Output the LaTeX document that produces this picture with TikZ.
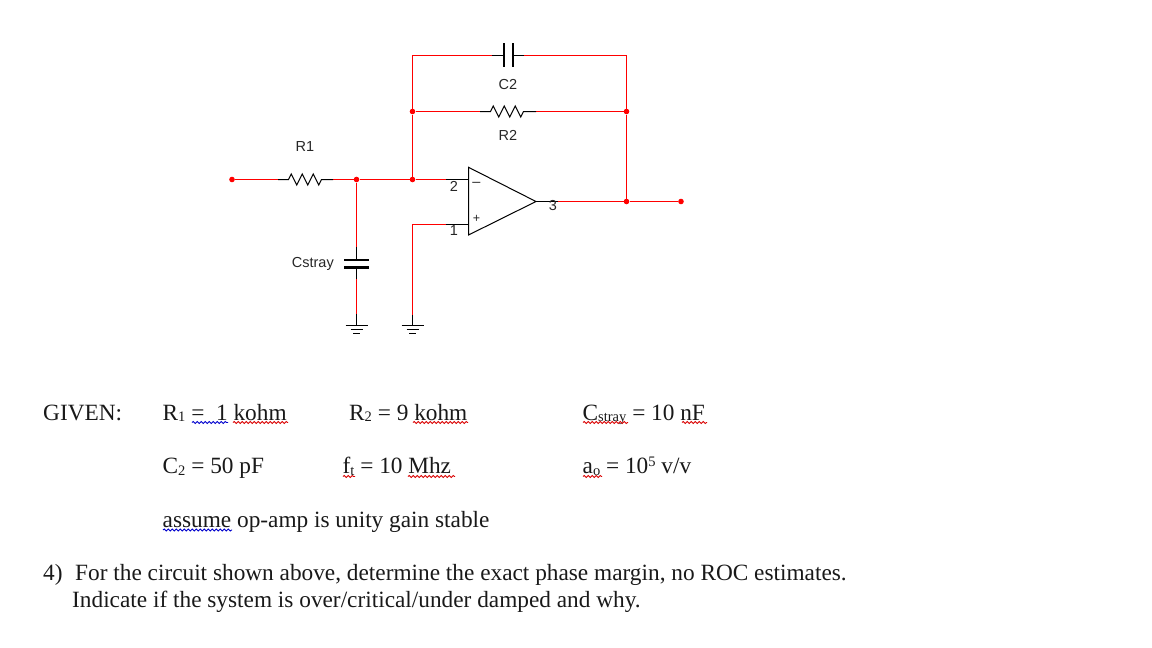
\documentclass[tikz,border=0pt]{standalone}
\usepackage{fontspec}
\setmainfont{Liberation Serif}
\newfontfamily\labelfont{Liberation Sans}
\usetikzlibrary{decorations.pathmorphing}

\newcommand{\lowtxt}[1]{\raisebox{-1.5pt}{\fontsize{14.5}{14.5}\selectfont #1}}
\newcommand{\hightxt}[1]{\raisebox{7.5pt}{\fontsize{14.5}{14.5}\selectfont #1}}

\tikzset{
  gnd/.pic={
    \draw[blackwire] (-11,0) -- (11,0);
    \draw[blackwire] (-6,4) -- (6,4);
    \draw[blackwire] (-3.5,8) -- (3.5,8);
  }
}

\begin{document}
\begin{tikzpicture}
    [x=1pt,y=-1pt,
     redwire/.style={draw=red,line width=1pt},
     blackwire/.style={draw=black,line width=1pt},
     plate/.style={draw=black,line width=2.4pt},
     resistor/.style={draw=black,line width=1pt,decorate,
       decoration={zigzag,amplitude=5.5pt,segment length=11pt,pre length=10.5pt,post length=10.5pt}},
     dot/.style={circle,fill=red,inner sep=0pt,minimum size=5.6pt},
     lab/.style={inner sep=0pt,text=black!85,font=\labelfont\fontsize{14.5}{16}\selectfont},
     txt/.style={anchor=base west,inner sep=0pt,text=black!90,font=\fontsize{23.3}{26}\selectfont},
     spellred/.style={draw=red!85!black,line width=0.9pt,decorate,decoration={snake,amplitude=1pt,segment length=4pt}},
     spellblue/.style={draw=blue!80!black,line width=0.9pt,decorate,decoration={snake,amplitude=1pt,segment length=4pt}}]
    \useasboundingbox (0,0) rectangle (1152,648);

    % junctions
    \node[dot] (in) at (232, 179.5) {};
    \node[dot] (n1) at (356.5, 179.5) {};
    \node[dot] (n2) at (412.5, 179.5) {};
    \node[dot] (n3) at (412.5, 111.5) {};
    \node[dot] (n4) at (626.5, 111.5) {};
    \node[dot] (n5) at (626.5, 201.5) {};
    \node[dot] (out) at (681, 201.5) {};

    % lead ends and corners
    \coordinate (r1a) at (278, 179.5);
    \coordinate (r1b) at (333, 179.5);
    \coordinate (r2a) at (480, 111.5);
    \coordinate (r2b) at (536, 111.5);
    \coordinate (tl) at (412.5, 55.5);
    \coordinate (tr) at (626.5, 55.5);
    \coordinate (c2a) at (492, 55.5);
    \coordinate (c2b) at (524, 55.5);
    \coordinate (c2p) at (504, 55.5);
    \coordinate (c2q) at (512.7, 55.5);
    \coordinate (c2pt) at (504, 43);
    \coordinate (c2pb) at (504, 67);
    \coordinate (c2qt) at (512.7, 43);
    \coordinate (c2qb) at (512.7, 67);
    \coordinate (csa) at (356.5, 247);
    \coordinate (csp) at (356.5, 260);
    \coordinate (csq) at (356.5, 267.3);
    \coordinate (csb) at (356.5, 279);
    \coordinate (cspl) at (344, 260);
    \coordinate (cspr) at (368.7, 260);
    \coordinate (csql) at (344, 267.3);
    \coordinate (csqr) at (368.7, 267.3);
    \coordinate (g1a) at (356.5, 314);
    \coordinate (g1) at (356.5, 325.5);
    \coordinate (g2a) at (412.5, 315);
    \coordinate (g2) at (412.5, 325.5);
    \coordinate (pc) at (412.5, 224.5);
    \coordinate (pm) at (446, 179.5);
    \coordinate (pp) at (446, 224.5);
    \coordinate (mi) at (468.5, 179.5);
    \coordinate (pl) at (468.5, 224.5);
    \coordinate (oa) at (468.5, 167.3);
    \coordinate (ob) at (468.5, 235);
    \coordinate (oc) at (536, 201.5);
    \coordinate (od) at (558, 201.5);

    % red wires
    \draw[redwire] (in) -- (r1a);
    \draw[redwire] (r1b) -- (n1);
    \draw[redwire] (n1) -- (n2);
    \draw[redwire] (n2) -- (pm);
    \draw[redwire] (n2) -- (n3);
    \draw[redwire] (n3) -- (tl) -- (c2a);
    \draw[redwire] (c2b) -- (tr) -- (n4);
    \draw[redwire] (n3) -- (r2a);
    \draw[redwire] (r2b) -- (n4);
    \draw[redwire] (n4) -- (n5);
    \draw[redwire] (od) -- (n5);
    \draw[redwire] (n5) -- (out);
    \draw[redwire] (n1) -- (csa);
    \draw[redwire] (csb) -- (g1a);
    \draw[redwire] (g2a) -- (pc) -- (pp);

    % black parts
    \draw[resistor] (r1a) -- (r1b);
    \draw[resistor] (r2a) -- (r2b);
    \draw[blackwire] (c2a) -- (c2p);
    \draw[blackwire] (c2q) -- (c2b);
    \draw[plate] (c2pt) -- (c2pb);
    \draw[plate] (c2qt) -- (c2qb);
    \draw[blackwire] (csa) -- (csp);
    \draw[blackwire] (csq) -- (csb);
    \draw[plate] (cspl) -- (cspr);
    \draw[plate] (csql) -- (csqr);
    \draw[blackwire] (g1a) -- (g1);
    \draw[blackwire] (g2a) -- (g2);
    \pic at (g1) {gnd};
    \pic at (g2) {gnd};
    \draw[blackwire] (pm) -- (mi);
    \draw[blackwire] (pp) -- (pl);
    \draw[blackwire] (oa) -- (ob) -- (oc) -- cycle;
    \draw[blackwire] (oc) -- (od);

    % circuit labels
    \node[lab] (lc2) at (508, 84.5) {C2};
    \node[lab] (lr2) at (508, 135) {R2};
    \node[lab] (lr1) at (305, 146.5) {R1};
    \node[lab,anchor=east] (lcs) at (334, 263.5) {Cstray};
    \node[lab] (p2) at (454, 186) {2};
    \node[lab] (p1) at (454, 231) {1};
    \node[lab] (p3) at (553, 206) {3};
    \node[lab] (minus) at (476.5, 184) {\textendash};
    \node[lab] (plus) at (476.5, 219) {\fontsize{12.5}{14}\selectfont +};

    % text
    \node[txt] (given) at (43, 420) {GIVEN:};
    \node[txt] (vr1) at (162.5, 420) {R\lowtxt{1} =~ 1 kohm};
    \node[txt] (vr2) at (349, 420) {R\lowtxt{2} = 9 kohm};
    \node[txt] (vcs) at (582.5, 420) {C\lowtxt{stray} = 10 nF};
    \node[txt] (vc2) at (162.5, 473.5) {C\lowtxt{2} = 50 pF};
    \node[txt] (vft) at (342.5, 473.5) {f\lowtxt{t} = 10 Mhz};
    \node[txt] (vao) at (582.5, 473.5) {a\lowtxt{o} = 10\hightxt{5} v/v};
    \node[txt] (note) at (162.5, 527.5) {assume op-amp is unity gain stable};
    \node[txt] (qn) at (43, 580) {4)};
    \node[txt] (q1) at (75, 580) {For the circuit shown above, determine the exact phase margin, no ROC estimates.};
    \node[txt] (q2) at (72, 607) {Indicate if the system is over/critical/under damped and why.};

    % spelling marks
    \draw[spellblue] (192, 422.5) -- (228, 422.5);
    \draw[spellred] (233, 422.5) -- (288, 422.5);
    \draw[spellred] (413, 422.5) -- (468, 422.5);
    \draw[spellred] (583, 422.5) -- (628, 422.5);
    \draw[spellred] (682, 422.5) -- (707, 422.5);
    \draw[spellred] (343, 476.5) -- (355, 476.5);
    \draw[spellred] (408, 476.5) -- (455, 476.5);
    \draw[spellred] (583, 476.5) -- (602, 476.5);
    \draw[spellblue] (163, 530) -- (232, 530);
\end{tikzpicture}
\end{document}
